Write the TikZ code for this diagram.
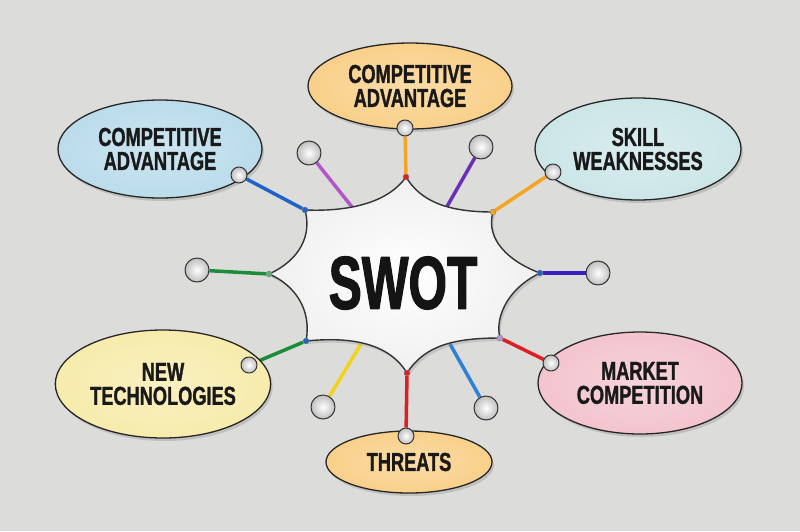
\documentclass[tikz,border=0pt]{standalone}
\usepackage{fontspec}
\newfontfamily\labelfont[FakeStretch=0.7,FakeBold=1.2]{Liberation Sans}
\newfontfamily\swotfont[FakeStretch=0.66,FakeBold=1.5]{Liberation Sans}
\usetikzlibrary{shapes.geometric,shadows}

\definecolor{paper}{HTML}{DCDCDB}
\definecolor{peach}{HTML}{F9D08A}
\definecolor{sky}{HTML}{BBDCEB}
\definecolor{aqua}{HTML}{CCE6E8}
\definecolor{cream}{HTML}{F7EBAC}
\definecolor{rose}{HTML}{F3C4CE}
\definecolor{wireorange}{HTML}{F5A521}
\definecolor{wireblue}{HTML}{1F62C8}
\definecolor{wiregreen}{HTML}{1B8C3A}
\definecolor{wirered}{HTML}{DE1E22}
\definecolor{wireindigo}{HTML}{3A1FC0}
\definecolor{wirelilac}{HTML}{B356CA}
\definecolor{wirepurple}{HTML}{6A2EB8}
\definecolor{wireyellow}{HTML}{F3D21A}
\definecolor{wiresky}{HTML}{2C80D6}

\pgfdeclarelayer{wires}
\pgfsetlayers{wires,main}

\begin{document}
\begin{tikzpicture}[x=1pt,y=-1pt,line join=round]
	  \tikzstyle{bubble}=[ellipse,draw=black!85,line width=1.3pt,align=center,text=black!90,
	    font=\labelfont\bfseries\fontsize{26}{24}\selectfont,
	    drop shadow={opacity=0.3,shadow xshift=2pt,shadow yshift=-3pt}]
	  \tikzstyle{knob}=[circle,draw=black!80,line width=1pt,inner color=white,outer color=black!25,
	    minimum size=24pt,inner sep=0pt]
	  \tikzstyle{tab}=[knob,minimum size=16pt]
	  \tikzstyle{pin}=[circle,inner sep=0pt,minimum size=6pt,draw=black!50,line width=0.4pt]
	  \tikzstyle{wire}=[line width=3.5pt]

	  \begin{pgfonlayer}{wires}
	  \fill[paper] (0,0) rectangle (800,531);
	  \end{pgfonlayer}
	  \useasboundingbox (0,0) rectangle (800,531);

	  % the six labels
	  \node[bubble,inner color=peach!75!white,outer color=peach,minimum width=204pt,minimum height=86pt] (advtop) at (410,86) {COMPETITIVE\\ADVANTAGE};
	  \node[bubble,inner color=sky!75!white,outer color=sky,minimum width=204pt,minimum height=98pt] (advleft) at (160,149) {COMPETITIVE\\ADVANTAGE};
	  \node[bubble,inner color=aqua!75!white,outer color=aqua,minimum width=206pt,minimum height=102pt] (skill) at (638,149) {SKILL\\WEAKNESSES};
	  \node[bubble,inner color=cream!75!white,outer color=cream,minimum width=212pt,minimum height=108pt] (newtech) at (163,384) {NEW\\TECHNOLOGIES};
	  \node[bubble,inner color=rose!75!white,outer color=rose,minimum width=204pt,minimum height=102pt] (market) at (640,383) {MARKET\\COMPETITION};
	  \node[bubble,inner color=peach!75!white,outer color=peach,minimum width=166pt,minimum height=62pt] (threats) at (409,462) {THREATS};

	  % star points
	  \coordinate (vt) at (406,177);
	  \coordinate (vur) at (493,212);
	  \coordinate (vr) at (540,273);
	  \coordinate (vlr) at (500,338);
	  \coordinate (vb) at (407,373);
	  \coordinate (vll) at (306,341);
	  \coordinate (vl) at (269,274);
	  \coordinate (vul) at (305,210);
	  % loose wire ends
	  \coordinate (eul) at (356,212);
	  \coordinate (eur) at (445,210);
	  \coordinate (ell) at (361,344);
	  \coordinate (elr) at (450,344);

	  \path[draw=black!80,line width=1.4pt,inner color=white,outer color=black!6,
	    drop shadow={opacity=0.25,shadow xshift=2pt,shadow yshift=-3pt}]
	    (vt) .. controls (420,200) and (445,212) .. (vur)
	    .. controls (485,240) and (510,262) .. (vr)
	    .. controls (505,290) and (495,320) .. (vlr)
	    .. controls (455,338) and (425,345) .. (vb)
	    .. controls (390,345) and (355,336) .. (vll)
	    .. controls (312,310) and (295,285) .. (vl)
	    .. controls (300,260) and (312,235) .. (vul)
	    .. controls (355,212) and (390,200) .. (vt) -- cycle;
	  \node[font=\swotfont\bfseries\fontsize{75}{75}\selectfont,text=black!92] (swot) at (403,283) {SWOT};

	  \node[pin,fill=wirered] (pt) at (vt) {};
	  \node[pin,fill=wireorange] (pur) at (vur) {};
	  \node[pin,fill=wireblue] (pr) at (vr) {};
	  \node[pin,fill=wirepurple!50!white] (plr) at (vlr) {};
	  \node[pin,fill=wirered] (pb) at (vb) {};
	  \node[pin,fill=wireblue] (pll) at (vll) {};
	  \node[pin,fill=wiregreen!70!white] (pl) at (vl) {};
	  \node[pin,fill=wireblue] (pul) at (vul) {};

	  \node[tab] (tadvtop) at (405,128) {};
	  \node[tab] (tadvleft) at (239,175) {};
	  \node[tab] (tskill) at (553,172) {};
	  \node[tab] (tmarket) at (551,363) {};
	  \node[tab] (tthreats) at (406,436) {};
	  \node[tab] (tnewtech) at (249,365) {};

	  \node[knob] (kleft) at (197,270) {};
	  \node[knob] (kright) at (598,273) {};
	  \node[knob] (kul) at (309,153) {};
	  \node[knob] (kur) at (481,147) {};
	  \node[knob] (kll) at (323,407) {};
	  \node[knob] (klr) at (486,408) {};

	  \begin{pgfonlayer}{wires}
	  \draw[wire,wireorange] (pt) -- (tadvtop);
	  \draw[wire,wireorange] (pur) -- (tskill);
	  \draw[wire,wireindigo] (pr) -- (kright);
	  \draw[wire,wirered] (plr) -- (tmarket);
	  \draw[wire,wirered] (pb) -- (tthreats);
	  \draw[wire,wiregreen] (pll) -- (tnewtech);
	  \draw[wire,wiregreen] (pl) -- (kleft);
	  \draw[wire,wireblue] (pul) -- (tadvleft);
	  \draw[wire,wirelilac] (eul) -- (kul);
	  \draw[wire,wirepurple] (eur) -- (kur);
	  \draw[wire,wireyellow] (ell) -- (kll);
	  \draw[wire,wiresky] (elr) -- (klr);
	  \end{pgfonlayer}
\end{tikzpicture}
\end{document}
